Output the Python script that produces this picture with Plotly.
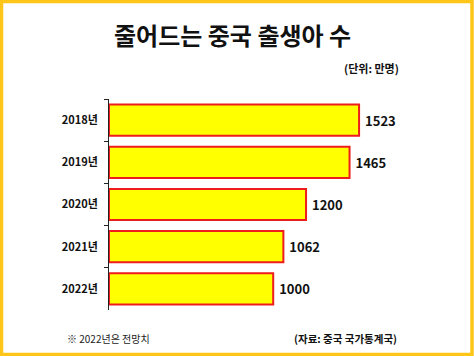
import plotly.graph_objects as go

years = ["2018년", "2019년", "2020년", "2021년", "2022년"]
births = [1523, 1465, 1200, 1062, 1000]
title_text = "줄어드는 중국 출생아 수"
unit_text = "(단위: 만명)"
note_text = "※ 2022년은 전망치"
source_text = "(자료: 중국 국가통계국)"

W, H = 474, 356
L, R, T, B = 109, 34, 99, 46
PW, PH = W - L - R, H - T - B

def px(x):
    return (x - L) / PW

def py(y):
    return 1 - (y - T) / PH

FONT = "Noto Sans CJK KR"

fig = go.Figure(go.Bar(
    y=years, x=births, orientation="h",
    marker=dict(color="#FFFF00", line=dict(color="#EE1C1C", width=2)),
    texttemplate=" %{x}", textposition="outside",
    textfont=dict(family=FONT, size=13, color="#111111", weight="bold"),
    cliponaxis=False,
))

fig.update_layout(
    width=W, height=H,
    margin=dict(l=L, r=R, t=T, b=B, pad=0),
    paper_bgcolor="white", plot_bgcolor="white",
    bargap=0.26, showlegend=False,
    xaxis=dict(range=[0, PW / 0.1642], visible=False, fixedrange=True),
    yaxis=dict(
        autorange="reversed", type="category", tickson="boundaries",
        ticks="outside", ticklen=4, tickcolor="#222222", tickwidth=1,
        showline=True, linecolor="#222222", linewidth=1,
        showgrid=False, zeroline=False,
        tickfont=dict(family=FONT, size=11, color="#111111", weight="bold"),
        ticklabelstandoff=8,
    ),
    shapes=[dict(
        type="rect", xref="paper", yref="paper",
        x0=px(1.5), x1=px(W - 2), y0=py(H - 1.5), y1=py(1.5),
        line=dict(color="#FFC61A", width=3.5), fillcolor="rgba(0,0,0,0)",
        layer="above",
    )],
    annotations=[
        dict(text=title_text, xref="paper", yref="paper", x=px(232), y=py(34),
             xanchor="center", yanchor="middle", showarrow=False,
             font=dict(family=FONT, size=24, color="#111111", weight="bold")),
        dict(text=unit_text, xref="paper", yref="paper", x=px(401), y=py(68),
             xanchor="right", yanchor="middle", showarrow=False,
             font=dict(family=FONT, size=11, color="#111111", weight="bold")),
        dict(text=note_text, xref="paper", yref="paper", x=px(65), y=py(338),
             xanchor="left", yanchor="middle", showarrow=False,
             font=dict(family=FONT, size=10, color="#222222")),
        dict(text=source_text, xref="paper", yref="paper", x=px(399), y=py(338),
             xanchor="right", yanchor="middle", showarrow=False,
             font=dict(family=FONT, size=10.5, color="#111111", weight="bold")),
    ],
)

fig.write_html("out.html")
